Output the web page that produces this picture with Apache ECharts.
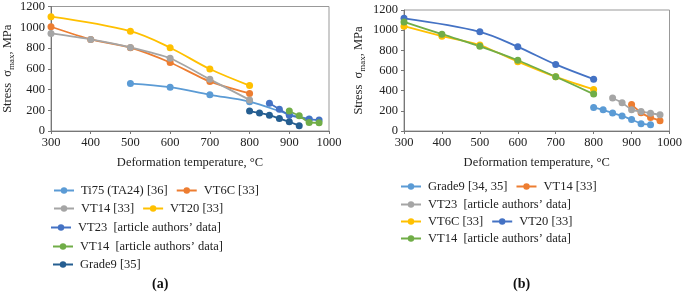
<!DOCTYPE html>
<html><head><meta charset="utf-8">
<script src="https://cdn.jsdelivr.net/npm/echarts@6/dist/echarts.min.js"></script>
<style>html,body{margin:0;padding:0;background:#fff}#c{width:685px;height:293px}</style>
</head><body><div id="c"></div>
<script>
// ---- Chart (a) data ----
const aTi75T = [500,600,700,800,900,950];
const aTi75V = [457,422,349,283,160,115];
const aVT6CT = [300,400,500,600,700,800];
const aVT6CV = [1005,883,803,660,476,362];
const aVT14T = [300,400,500,600,700,800];
const aVT14V = [940,883,806,701,498,300];
const aVT20T = [300,500,600,700,800];
const aVT20V = [1102,962,803,597,438];
const aVT23T = [850,875,900,950,975];
const aVT23V = [267,210,152,114,105];
const aVT14artT = [900,925,950,975];
const aVT14artV = [193,146,83,79];
const aGr9T = [800,825,850,875,900,925];
const aGr9V = [192,174,152,120,89,51];
// ---- Chart (b) data ----
const bGr9T = [800,825,850,875,900,925,950];
const bGr9V = [232,210,178,150,113,73,63];
const bVT14T = [900,925,950,975];
const bVT14V = [262,182,135,101];
const bVT23T = [850,875,900,925,950,975];
const bVT23V = [327,280,210,194,177,160];
const bVT6CT = [300,400,500,600,700,800];
const bVT6CV = [1040,940,852,688,537,412];
const bVT20T = [300,500,600,700,800];
const bVT20V = [1117,984,835,660,514];
const bVT14artT = [300,400,500,600,700,800];
const bVT14artV = [1082,960,840,702,538,366];
// tick values
const xTicks = {min:300, max:1000, interval:100};
const yTicks = {min:0, max:1200, interval:200};

const pairs = (t,v) => t.map((x,i)=>[x,v[i]]);
const FONT = 'Liberation Serif';
const TXT = '#222';

function mkSeries(name, t, v, color, g, smooth){
  return {
    name, type:'line', xAxisIndex:g, yAxisIndex:g,
    data: pairs(t,v), smooth: smooth,
    symbol:'circle', symbolSize:7, showSymbol:true,
    itemStyle:{color}, lineStyle:{color, width:1.8},
    emphasis:{disabled:true}
  };
}

const C = {lb:'#5B9BD5', or:'#ED7D31', gr:'#A5A5A5', go:'#FFC000', db:'#4472C4', gn:'#70AD47', nv:'#255E91'};

const series = [
  mkSeries('a:Ti75 (TA24) [36]', aTi75T, aTi75V, C.lb, 0, 0.35),
  mkSeries('a:VT6C [33]', aVT6CT, aVT6CV, C.or, 0, 0.2),
  mkSeries('a:VT14 [33]', aVT14T, aVT14V, C.gr, 0, 0.2),
  mkSeries('a:VT20 [33]', aVT20T, aVT20V, C.go, 0, 0.35),
  mkSeries("a:VT23  [article authors’ data]", aVT23T, aVT23V, C.db, 0, 0.1),
  mkSeries("a:VT14  [article authors’ data]", aVT14artT, aVT14artV, C.gn, 0, 0.1),
  mkSeries('a:Grade9 [35]', aGr9T, aGr9V, C.nv, 0, 0.1),
  mkSeries('b:Grade9 [34, 35]', bGr9T, bGr9V, C.lb, 1, 0.1),
  mkSeries('b:VT14 [33]', bVT14T, bVT14V, C.or, 1, 0.1),
  mkSeries("b:VT23  [article authors’ data]", bVT23T, bVT23V, C.gr, 1, 0.1),
  mkSeries('b:VT6C [33]', bVT6CT, bVT6CV, C.go, 1, 0.2),
  mkSeries('b:VT20 [33]', bVT20T, bVT20V, C.db, 1, 0.35),
  mkSeries("b:VT14  [article authors’ data]", bVT14artT, bVT14artV, C.gn, 1, 0.2)
];

function lg(data, left, top){
  return {
    data, left, top, orient:'horizontal', padding:0, itemGap:8,
    itemWidth:20, itemHeight:8, selectedMode:false,
    formatter: n => n.replace(/^[ab]:/,''),
    textStyle:{fontFamily:FONT, fontSize:12.5, color:TXT, padding:[0,0,0,2]}
  };
}

const axLbl = {fontFamily:FONT, fontSize:12.5, color:TXT, formatter: v => String(v)};
function xAx(g){
  return {
    type:'value', gridIndex:g, min:xTicks.min, max:xTicks.max, interval:xTicks.interval,
    name:'Deformation temperature, °C', nameLocation:'middle', nameGap:25,
    nameTextStyle:{fontFamily:FONT, fontSize:12.5, color:TXT},
    axisLine:{show:true, lineStyle:{color:'#777', width:1}},
    axisTick:{show:true, length:3, lineStyle:{color:'#777'}},
    axisLabel:{...axLbl, margin:5},
    splitLine:{show:false}
  };
}
function yAx(g, gap){
  return {
    type:'value', gridIndex:g, min:yTicks.min, max:yTicks.max, interval:yTicks.interval,
    name:'Stress  σ{s|max}, MPa', nameLocation:'middle', nameGap:gap, nameRotate:90,
    nameTextStyle:{fontFamily:FONT, fontSize:12.5, color:TXT,
      rich:{s:{fontFamily:FONT, fontSize:9, color:TXT, padding:[8,0,0,0]}}},
    axisLine:{show:true, lineStyle:{color:'#777', width:1}},
    axisTick:{show:true, length:3, lineStyle:{color:'#777'}},
    axisLabel:{...axLbl, margin:6},
    splitLine:{show:false}
  };
}

const option = {
  animation:false,
  backgroundColor:'#fff',
  title:[
    {text:'(a)', left:152, top:277, padding:0, textStyle:{fontFamily:FONT, fontSize:14, fontWeight:'bold', color:'#111'}},
    {text:'(b)', left:513, top:277, padding:0, textStyle:{fontFamily:FONT, fontSize:14, fontWeight:'bold', color:'#111'}}
  ],
  grid:[
    {left:51, right:356, top:4, bottom:162, show:true, borderColor:'#999', borderWidth:1, containLabel:false},
    {left:404, right:12, top:10, bottom:162, show:true, borderColor:'#999', borderWidth:1, containLabel:false}
  ],
  xAxis:[xAx(0), xAx(1)],
  yAxis:[yAx(0,34), yAx(1,37)],
  legend:[
    lg(['a:Ti75 (TA24) [36]','a:VT6C [33]'], 53, 184),
    lg(['a:VT14 [33]','a:VT20 [33]'], 53, 202),
    lg(["a:VT23  [article authors’ data]"], 50, 221),
    lg(["a:VT14  [article authors’ data]"], 52, 240),
    lg(['a:Grade9 [35]'], 52, 258),
    lg(['b:Grade9 [34, 35]','b:VT14 [33]'], 400, 180),
    lg(["b:VT23  [article authors’ data]"], 400, 198),
    lg(['b:VT6C [33]','b:VT20 [33]'], 400, 215),
    lg(["b:VT14  [article authors’ data]"], 400, 232)
  ],
  series
};
const chart = echarts.init(document.getElementById('c'), null, {renderer:'canvas'});
chart.setOption(option);
</script></body></html>
